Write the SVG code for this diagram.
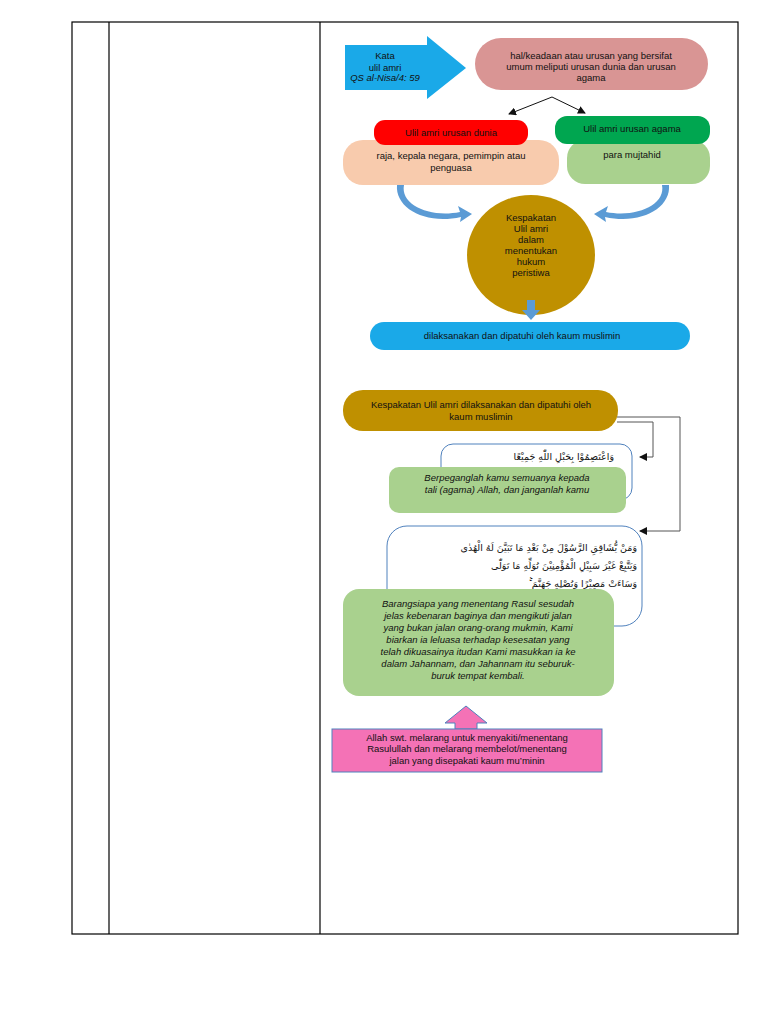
<svg xmlns="http://www.w3.org/2000/svg" width="768" height="1024" viewBox="0 0 768 1024">
<defs>
<style>
text{font-family:"Liberation Sans",Arial,sans-serif;font-size:9.5px;fill:#111;text-anchor:middle}
.it{font-style:italic}
.ar{font-family:"DejaVu Sans","Noto Sans",sans-serif;text-anchor:end}
.ln{fill:none;stroke:#555;stroke-width:1}
</style>
<marker id="ah" markerWidth="8" markerHeight="8" refX="7" refY="4" orient="auto"><path d="M0,0 L8,4 L0,8 Z" fill="#111"/></marker>
</defs>
<rect width="768" height="1024" fill="#fff"/>
<g id="table" fill="none" stroke="#000" stroke-width="1.2">
<rect x="72" y="22" width="666" height="912"/>
<line x1="109" y1="22" x2="109" y2="934"/>
<line x1="320" y1="22" x2="320" y2="934"/>
</g>
<g id="kata">
<path d="M345,45 H427 V36 L466,68 L427,99 V90 H345 Z" fill="#1aa9e8"/>
<text x="385" y="59" font-size="11">Kata</text>
<text x="385" y="71" font-size="11">ulil amri</text>
<text x="385" y="81" class="it">QS al-Nisa/4: 59</text>
</g>
<g id="umum">
<rect x="475" y="38" width="233" height="52" rx="26" fill="#d99594"/>
<text x="591" y="59">hal/keadaan atau urusan yang bersifat</text>
<text x="591" y="70">umum meliputi urusan dunia dan urusan</text>
<text x="591" y="81">agama</text>
</g>
<g id="dunia-desc">
<rect x="343" y="140" width="216" height="45" rx="20" fill="#f8cbad"/>
<text x="451" y="159">raja, kepala negara, pemimpin atau</text>
<text x="451" y="171">penguasa</text>
</g>
<g id="dunia">
<rect x="374" y="120" width="154" height="25" rx="11" fill="#f00"/>
<text x="451" y="136">Ulil amri urusan dunia</text>
</g>
<g id="agama-desc">
<rect x="567" y="140" width="143" height="44" rx="18" fill="#a9d18e"/>
<text x="632" y="158">para mujtahid</text>
</g>
<g id="agama">
<rect x="555" y="116" width="155" height="28" rx="12" fill="#00a650"/>
<text x="632" y="132">Ulil amri urusan agama</text>
</g>
<g id="kesepakatan">
<ellipse cx="531" cy="255" rx="64" ry="60" fill="#bf9000"/>
<text x="531" y="221">Kespakatan</text>
<text x="531" y="232">Ulil amri</text>
<text x="531" y="243">dalam</text>
<text x="531" y="254">menentukan</text>
<text x="531" y="265">hukum</text>
<text x="531" y="276">peristiwa</text>
</g>
<g id="dilaksanakan">
<rect x="370" y="322" width="320" height="28" rx="14" fill="#1aa9e8"/>
<text x="522" y="339">dilaksanakan dan dipatuhi oleh kaum muslimin</text>
</g>
<g id="kesepakatan2">
<rect x="343" y="390" width="275" height="41" rx="20" fill="#bf9000"/>
<text x="481" y="408">Kespakatan Ulil amri dilaksanakan dan dipatuhi oleh</text>
<text x="481" y="420">kaum muslimin</text>
</g>
<g id="ayat1">
<rect x="441" y="444" width="191" height="56" rx="12" fill="#fff" stroke="#4f81bd"/>
<text x="614" y="460" class="ar" font-size="11">وَاعْتَصِمُوْا بِحَبْلِ اللّٰهِ جَمِيْعًا</text>
</g>
<g id="arti1">
<rect x="389" y="467" width="237" height="46" rx="10" fill="#a9d18e"/>
<text x="507" y="481" class="it">Berpeganglah kamu semuanya kepada</text>
<text x="507" y="493" class="it">tali (agama) Allah, dan janganlah kamu</text>
</g>
<g id="ayat2">
<rect x="387" y="526" width="255" height="100" rx="20" fill="#fff" stroke="#4f81bd"/>
<text x="637" y="551" class="ar" font-size="13">وَمَنْ يُّشَاقِقِ الرَّسُوْلَ مِنْ بَعْدِ مَا تَبَيَّنَ لَهُ الْهُدٰى</text>
<text x="637" y="569" class="ar" font-size="13">وَيَتَّبِعْ غَيْرَ سَبِيْلِ الْمُؤْمِنِيْنَ نُوَلِّهِ مَا تَوَلّٰى</text>
<text x="637" y="587" class="ar" font-size="13">ۚ وَسَاءَتْ مَصِيْرًا وَنُصْلِهِ جَهَنَّمَ</text>
</g>
<g id="arti2">
<rect x="343" y="589" width="271" height="107" rx="16" fill="#a9d18e"/>
<text x="478" y="607" class="it">Barangsiapa yang menentang Rasul sesudah</text>
<text x="478" y="619" class="it">jelas kebenaran baginya dan mengikuti jalan</text>
<text x="478" y="631" class="it">yang bukan jalan orang-orang mukmin, Kami</text>
<text x="478" y="643" class="it">biarkan ia leluasa terhadap kesesatan yang</text>
<text x="478" y="655" class="it">telah dikuasainya itudan Kami masukkan ia ke</text>
<text x="478" y="667" class="it">dalam Jahannam, dan Jahannam itu seburuk-</text>
<text x="478" y="679" class="it">buruk tempat kembali.</text>
</g>
<g id="larangan">
<path d="M455,729 V723 H445 L466,706 L487,723 H477 V729 Z" fill="#f472b6" stroke="#4f81bd"/>
<rect x="332" y="729" width="270" height="43" fill="#f472b6" stroke="#4f81bd"/>
<text x="467" y="741">Allah swt. melarang untuk menyakiti/menentang</text>
<text x="467" y="752">Rasulullah dan melarang membelot/menentang</text>
<text x="467" y="764">jalan yang disepakati kaum mu’minin</text>
</g>
<g id="connectors">
<line x1="552" y1="97" x2="509" y2="114" stroke="#111" marker-end="url(#ah)"/>
<line x1="552" y1="97" x2="585" y2="113" stroke="#111" marker-end="url(#ah)"/>
<path d="M404,185 C400,205 430,218 460,212 L458,206 L472,214 L460,222 L461,217 C425,225 395,208 397,185 Z" fill="#5b9bd5"/>
<path d="M662,185 C666,205 636,218 606,212 L608,206 L594,214 L606,222 L605,217 C641,225 671,208 669,185 Z" fill="#5b9bd5"/>
<path d="M527,300 h8 v10 h5 l-9,10 l-9,-10 h5 Z" fill="#5b9bd5"/>
<path d="M617,417 H680 V531 H640" class="ln" marker-end="url(#ah)"/>
<path d="M617,422 H653 V457 H640" class="ln" marker-end="url(#ah)"/>
</g>
</svg>
